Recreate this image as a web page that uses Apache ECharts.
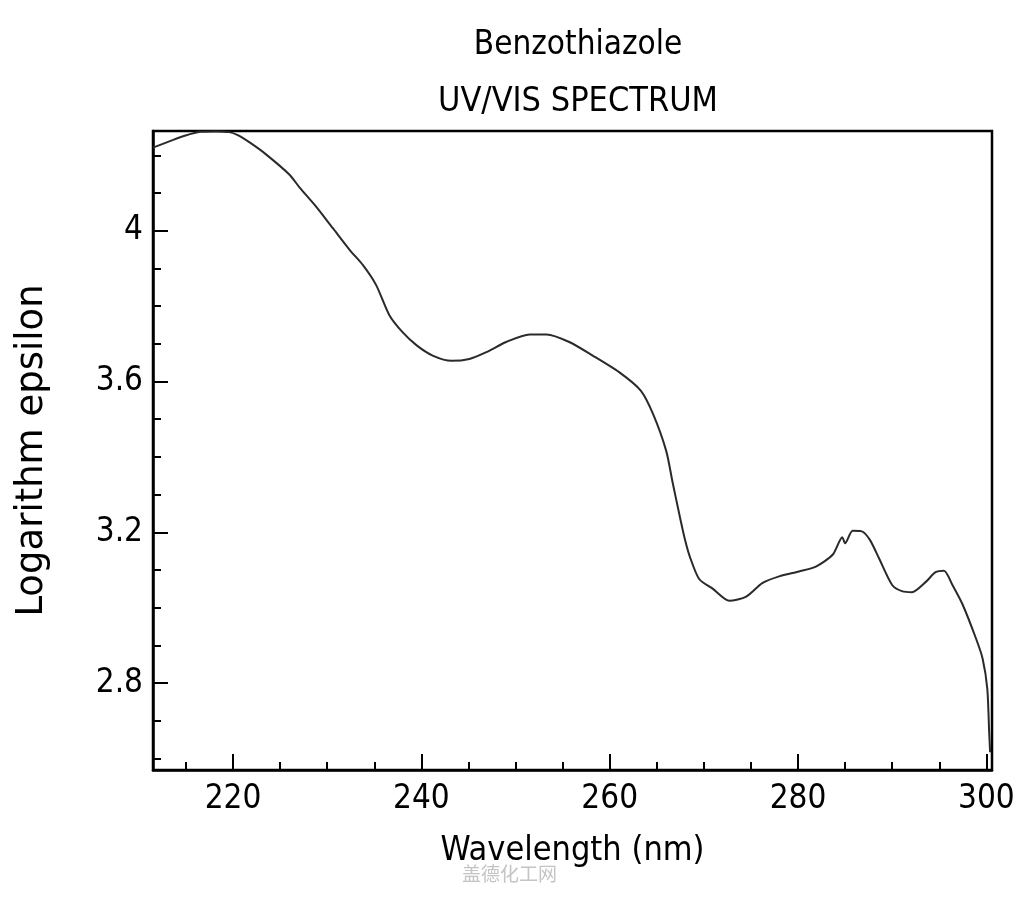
<!DOCTYPE html>
<html>
<head>
<meta charset="utf-8">
<script src="https://cdn.jsdelivr.net/npm/echarts@6/dist/echarts.min.js"></script>
<style>html,body{margin:0;padding:0;background:#fff}#c{width:1024px;height:900px}</style>
</head>
<body>
<div id="c"></div>
<script>
var wavelengths = [211.5,213.3,214.7,216.5,218.2,219.6,220.5,221.8,223.5,226.0,227.1,228.8,230.6,232.4,233.8,235.2,236.6,238.0,239.5,241.2,243.2,245.1,246.9,249.0,251.5,253.3,255.7,258.2,261.0,263.3,264.6,266.0,266.7,267.4,268.0,268.5,269.5,270.9,272.7,274.5,276.2,278.0,280.1,281.9,283.7,284.7,285.0,285.8,286.7,287.6,288.6,290.0,291.1,292.1,293.6,294.6,295.5,296.4,297.5,298.9,299.6,300.1,300.3,300.4];
var logEpsilon = [4.221,4.238,4.251,4.263,4.264,4.262,4.254,4.234,4.203,4.149,4.114,4.065,4.007,3.949,3.909,3.856,3.776,3.731,3.696,3.669,3.655,3.660,3.678,3.705,3.725,3.725,3.705,3.669,3.625,3.576,3.514,3.416,3.330,3.247,3.180,3.136,3.076,3.051,3.018,3.029,3.065,3.083,3.096,3.109,3.141,3.187,3.171,3.204,3.203,3.181,3.131,3.060,3.043,3.041,3.069,3.094,3.098,3.060,3.007,2.918,2.865,2.785,2.669,2.616];
var xMajorTicks = [220,240,260,280,300];
var xMinorTicks = [215,225,230,235,245,250,255,265,270,275,285,290,295];
var yMajorTicks = [2.8,3.2,3.6,4];
var yMinorTicks = [2.6,2.7,2.9,3.0,3.1,3.3,3.4,3.5,3.7,3.8,3.9,4.1,4.2];
var titleText = 'Benzothiazole';
var subTitleText = 'UV/VIS SPECTRUM';
var xName = 'Wavelength (nm)';
var yName = 'Logarithm epsilon';

var FONT = '"DejaVu Sans Condensed","DejaVu Sans",sans-serif';
var X_MIN = 211.5, X_MAX = 300.6, Y_MIN = 2.569, Y_MAX = 4.265;

var points = wavelengths.map(function(w,i){return [w, logEpsilon[i]];});

var chart = echarts.init(document.getElementById('c'));
chart.setOption({
  backgroundColor: '#fff',
  animation: false,
  title: [
    {text: titleText, left: 573, top: 24, textAlign: 'center',
     textStyle: {fontFamily: FONT, fontSize: 33, fontWeight: 'normal', color: '#000'}},
    {text: subTitleText, left: 573, top: 80, textAlign: 'center',
     textStyle: {fontFamily: FONT, fontSize: 34, fontWeight: 'normal', color: '#000'}}
  ],
  grid: {left: 153, right: 32, top: 131, bottom: 130, show: true, borderColor: '#000', borderWidth: 2.5, backgroundColor: 'transparent'},
  xAxis: [
    {type: 'value', min: X_MIN, max: X_MAX, position: 'bottom',
     name: xName, nameLocation: 'middle', nameGap: 64,
     nameTextStyle: {fontFamily: FONT, fontSize: 34, color: '#000'},
     axisLine: {show: true, lineStyle: {color: '#000', width: 2.5}},
     axisTick: {show: true, inside: true, length: 16, lineStyle: {color: '#000', width: 2}, customValues: xMajorTicks},
     axisLabel: {show: true, customValues: xMajorTicks, margin: 13, fontFamily: FONT, fontSize: 33, color: '#000'},
     splitLine: {show: false}},
    {type: 'value', min: X_MIN, max: X_MAX, position: 'bottom',
     axisLine: {show: false},
     axisTick: {show: true, inside: true, length: 8, lineStyle: {color: '#000', width: 2}, customValues: xMinorTicks},
     axisLabel: {show: false},
     splitLine: {show: false}}
  ],
  yAxis: [
    {type: 'value', min: Y_MIN, max: Y_MAX, position: 'left',
     name: yName, nameLocation: 'middle', nameGap: 102, nameRotate: 90,
     nameTextStyle: {fontFamily: '"DejaVu Sans",sans-serif', fontSize: 37, color: '#000'},
     axisLine: {show: true, lineStyle: {color: '#000', width: 2.5}},
     axisTick: {show: true, inside: true, length: 15, lineStyle: {color: '#000', width: 2}, customValues: yMajorTicks},
     axisLabel: {show: true, customValues: yMajorTicks, margin: 10, fontFamily: FONT, fontSize: 33, color: '#000'},
     splitLine: {show: false}},
    {type: 'value', min: Y_MIN, max: Y_MAX, position: 'left',
     axisLine: {show: false},
     axisTick: {show: true, inside: true, length: 8, lineStyle: {color: '#000', width: 2}, customValues: yMinorTicks},
     axisLabel: {show: false},
     splitLine: {show: false}}
  ],
  graphic: [
    {type: 'text', left: 462, top: 864,
     style: {text: '盖德化工网', fontFamily: '"Noto Sans CJK SC",sans-serif', fontSize: 19, fill: '#c4c4c4'}}
  ],
  series: [
    {type: 'line', xAxisIndex: 0, yAxisIndex: 0, data: points, showSymbol: false, symbol: 'none',
     smooth: 0.25, clip: true,
     lineStyle: {color: '#2a2a2a', width: 2}}
  ]
});
</script>
</body>
</html>
